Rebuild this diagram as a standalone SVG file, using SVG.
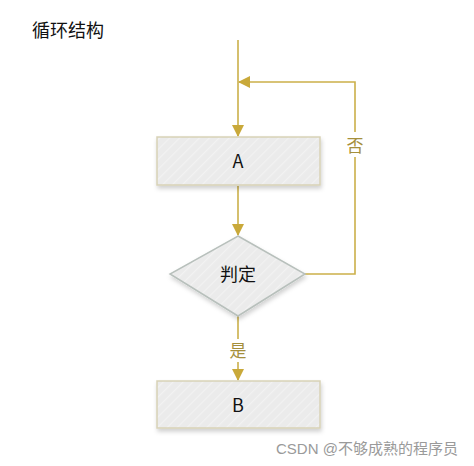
<svg xmlns="http://www.w3.org/2000/svg" width="474" height="466" viewBox="0 0 474 466">
<style>
.ln{fill:none;stroke:#cbb04a;stroke-width:1.6}
.box{fill:url(#hatch);stroke:#d8d2b6;stroke-width:1.5}
.dia{fill:url(#hatch);stroke:#b8c0bc;stroke-width:1.5}
.t{font-family:"Noto Sans CJK SC","Noto Sans",sans-serif;font-size:18px;fill:#111}
.lb{font-family:"Noto Sans CJK SC",sans-serif;font-size:17px;fill:#a58f3c}
.wm{font-family:"Liberation Sans","Noto Sans CJK SC",sans-serif;font-size:15px;fill:#9a9a9a}
</style>
<defs>
<pattern id="hatch" width="7" height="7" patternUnits="userSpaceOnUse" patternTransform="rotate(45)">
<rect width="7" height="7" fill="#ebebeb"/>
<line x1="0" y1="0" x2="0" y2="7" stroke="#f2f2f2" stroke-width="2.5"/>
</pattern>
<filter id="sh" x="-10%" y="-10%" width="130%" height="140%">
<feDropShadow dx="1" dy="3" stdDeviation="2" flood-color="#000" flood-opacity="0.18"/>
</filter>
<marker id="ar" markerWidth="12" markerHeight="12" refX="11" refY="6" orient="auto" markerUnits="userSpaceOnUse">
<path d="M0,0 L12,6 L0,12 Z" fill="#c9a93a"/>
</marker>
</defs>
<rect width="474" height="466" fill="#fff"/>
<text x="32" y="37" class="t">循环结构</text>
<g id="connectors">
<line class="ln" x1="238" y1="40" x2="238" y2="136" marker-end="url(#ar)"/>
<polyline class="ln" points="305,274 355,274 355,82 239,82" marker-end="url(#ar)"/>
<line class="ln" x1="238" y1="186" x2="238" y2="235" marker-end="url(#ar)"/>
<line class="ln" x1="238" y1="316" x2="238" y2="380" marker-end="url(#ar)"/>
<rect x="344" y="132" width="22" height="25" fill="#fff"/>
<text x="355" y="152" class="lb" text-anchor="middle">否</text>
<rect x="226" y="339" width="24" height="23" fill="#fff"/>
<text x="238" y="357" class="lb" text-anchor="middle">是</text>
</g>
<g id="nodeA">
<rect class="box" x="157" y="137" width="163" height="48" filter="url(#sh)"/>
<text x="238" y="168" class="t" text-anchor="middle" font-family="Liberation Sans,sans-serif">A</text>
</g>
<g id="decision">
<polygon class="dia" points="238,236 305,274 238,316 170,274" filter="url(#sh)"/>
<text x="238" y="281" class="t" text-anchor="middle">判定</text>
</g>
<g id="nodeB">
<rect class="box" x="157" y="381" width="163" height="47" filter="url(#sh)"/>
<text x="238" y="412" class="t" text-anchor="middle" font-family="Liberation Sans,sans-serif">B</text>
</g>
<text x="276" y="454" class="wm">CSDN @不够成熟的程序员</text>
</svg>
